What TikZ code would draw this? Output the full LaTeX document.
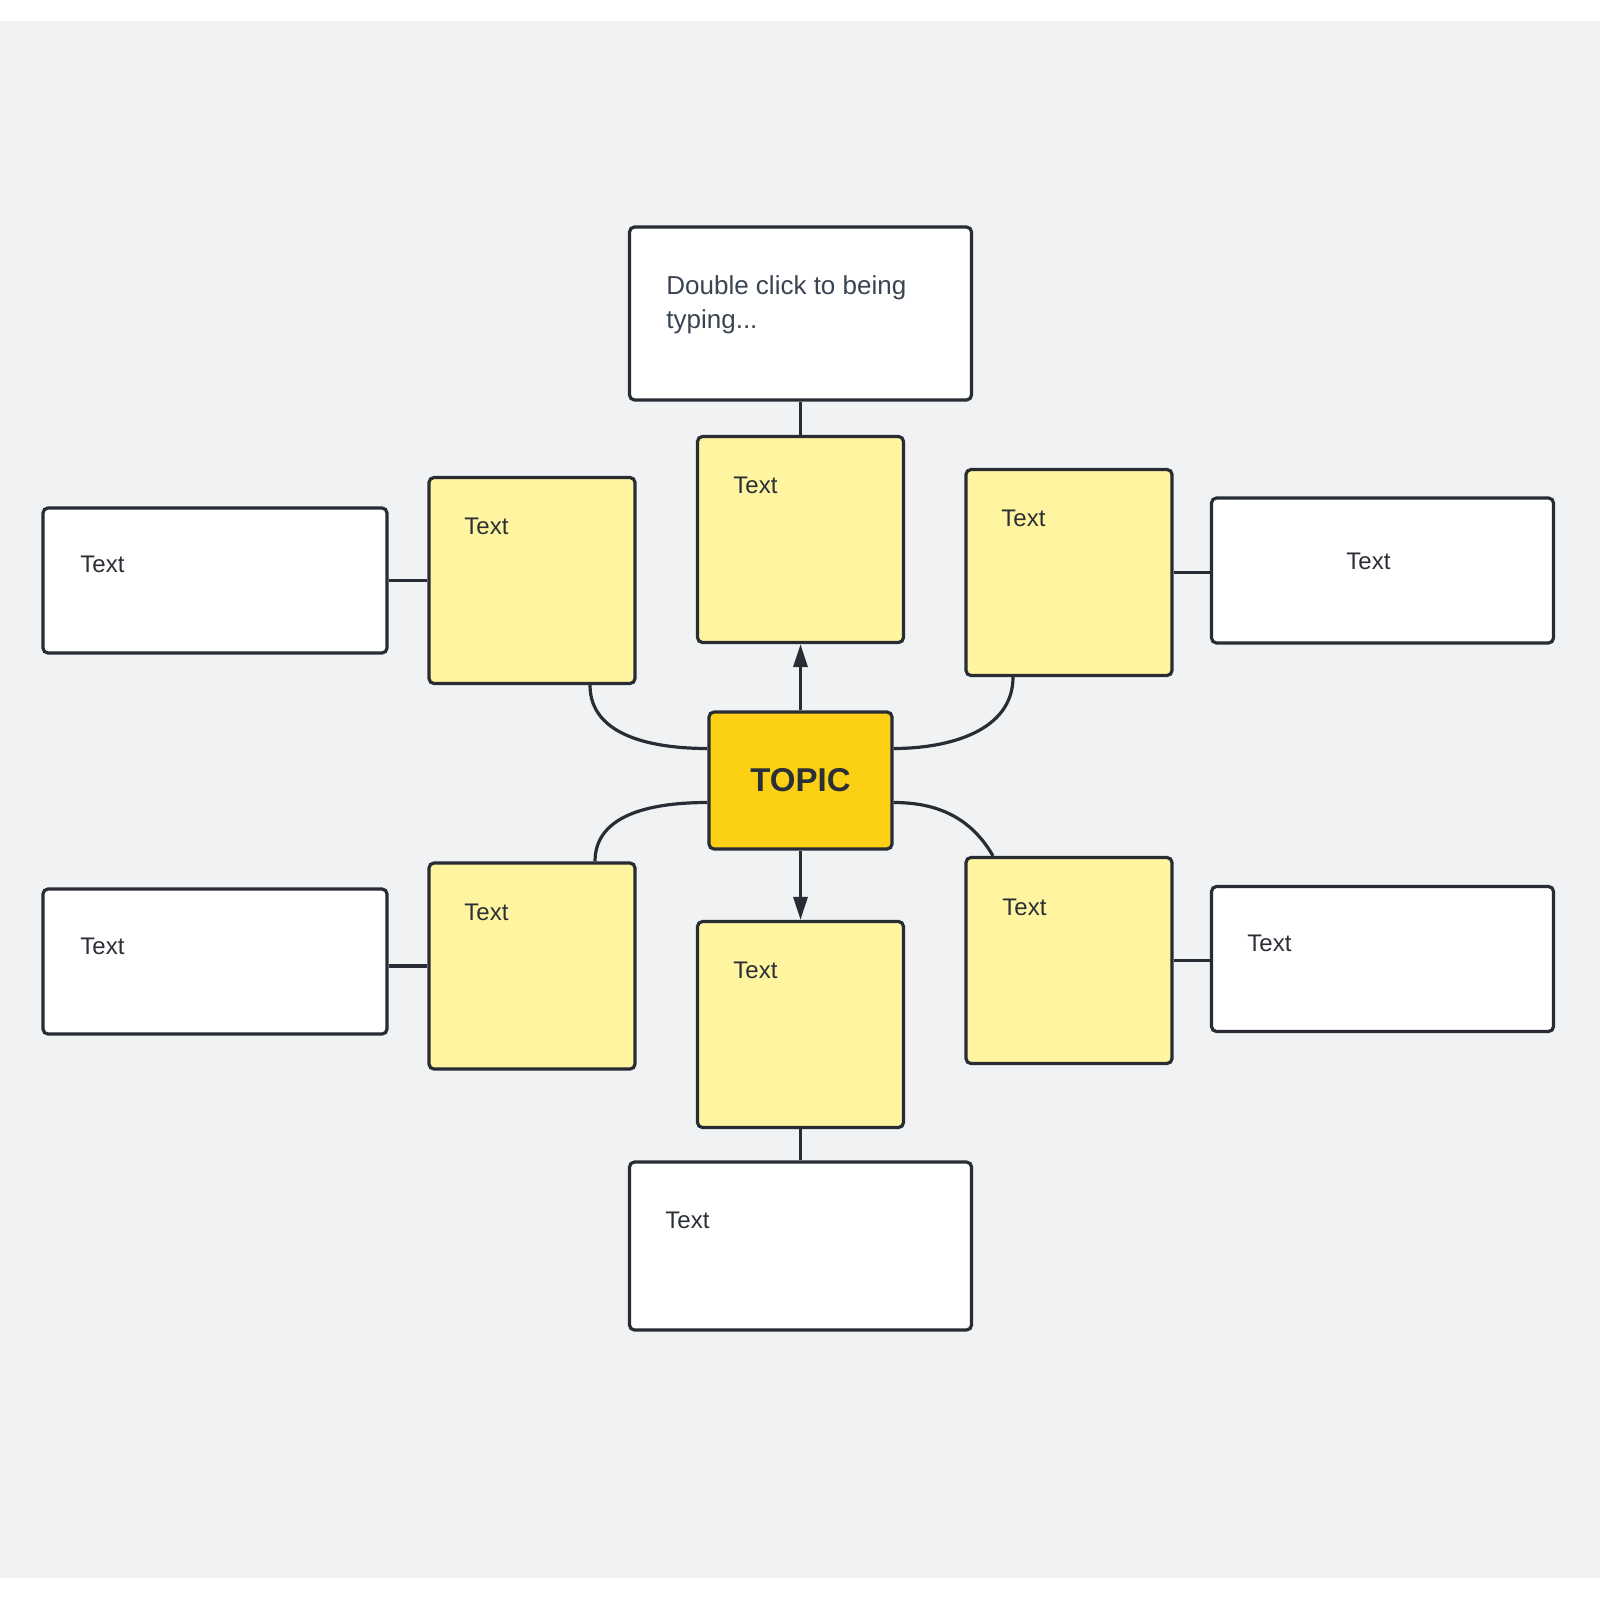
\documentclass[tikz,border=0pt]{standalone}
\usepackage{fontspec}
\setmainfont{Liberation Sans}
\usetikzlibrary{arrows.meta}

\definecolor{bgcol}{HTML}{F1F2F4}
\definecolor{linecol}{HTML}{282C34}
\definecolor{notecol}{HTML}{FFF5A0}
\definecolor{topiccol}{HTML}{FBD015}
\definecolor{txtcol}{HTML}{2B2F36}
\definecolor{hintcol}{HTML}{3A4452}

\tikzset{
  boxline/.style={draw=linecol, line width=1.6pt, rounded corners=2.5pt, inner sep=0pt},
  whitebox/.style={boxline, fill=white, minimum width=171pt, minimum height=72.5pt},
  notebox/.style={boxline, fill=notecol, minimum width=103pt, minimum height=103pt},
  topicbox/.style={boxline, fill=topiccol, minimum width=91.5pt, minimum height=68.5pt,
    text=txtcol, font=\fontsize{16.5pt}{19pt}\selectfont\bfseries},
  lbl/.style={anchor=base west, inner sep=0pt, text=txtcol, font=\fontsize{12pt}{17pt}\selectfont},
  hint/.style={lbl, text=hintcol, align=left, font=\fontsize{13pt}{17pt}\selectfont},
  wire/.style={draw=linecol, line width=1.6pt},
  arrowwire/.style={wire, -{Triangle[length=11.5pt,width=7pt]}}
}

\begin{document}
\begin{tikzpicture}[x=0.5pt,y=-0.5pt]
  \fill[white] (0,0) rectangle (1600,1600) ;   %page
  \fill[bgcol] (0,21) rectangle (1600,1578) ;  %canvas

  %Topic in the middle
  \node[topicbox] (topic) at (800.5,780.5) {TOPIC};

  %Notes round the topic
  \node[notebox] (nTop) at (800.5,539.5) {};
  \node[notebox] (nBot) at (800.5,1024.5) {};
  \node[notebox] (nUL) at (532,580.5) {};
  \node[notebox] (nUR) at (1069,572.5) {};
  \node[notebox] (nLL) at (532,966) {};
  \node[notebox] (nLR) at (1069,960.5) {};

  %White boxes on the outside
  \node[whitebox, minimum height=86.5pt] (wTop) at (800.5,313.5) {};
  \node[whitebox, minimum height=84pt] (wBot) at (800.5,1246) {};
  \node[whitebox, minimum width=172pt] (wUL) at (215,580.5) {};
  \node[whitebox] (wUR) at (1382.5,570.5) {};
  \node[whitebox, minimum width=172pt] (wLL) at (215,961.5) {};
  \node[whitebox] (wLR) at (1382.5,959) {};

  %Texts (base of the last line)
  \node[hint] (tHint) at (666,328) {Double click to being\\typing...};
  \node[lbl] (tTop) at (733,493) {Text};
  \node[lbl] (tUL) at (464,534) {Text};
  \node[lbl] (tUR) at (1001,526) {Text};
  \node[lbl] (tLL) at (464,920) {Text};
  \node[lbl] (tBot) at (733,978) {Text};
  \node[lbl] (tLR) at (1002,915) {Text};
  \node[lbl] (tWUL) at (80,572) {Text};
  \node[lbl] (tWUR) at (1346,569) {Text};
  \node[lbl] (tWLL) at (80,954) {Text};
  \node[lbl] (tWLR) at (1247,951) {Text};
  \node[lbl] (tWBot) at (665,1228) {Text};

  %Straight links
  \draw[wire] (wTop.south) -- (nTop.north) ;
  \draw[wire] (nBot.south) -- (wBot.north) ;
  \draw[arrowwire] (topic.north) -- (nTop.south) ;
  \draw[arrowwire] (topic.south) -- (nBot.north) ;
  \draw[wire] (wUL.east) -- (nUL.west) ;
  \draw[wire] (nUR.east) -- (nUR.east -| wUR.west) ;
  \draw[wire] (wLL.east |- nLL.west) -- (nLL.west) ;
  \draw[wire] (nLR.east) -- (nLR.east -| wLR.west) ;

  %Curved links to the topic
  \draw[wire] ([xshift=29pt]nUL.south) to[out=-90,in=180] ([yshift=16pt]topic.west) ;
  \draw[wire] ([xshift=-28pt]nUR.south) to[out=-90,in=0] ([yshift=16pt]topic.east) ;
  \draw[wire] ([yshift=-11pt]topic.west) to[out=180,in=90] ([xshift=31.5pt]nLL.north) ;
  \draw[wire] ([yshift=-11pt]topic.east) to[out=0,in=120] ([xshift=-38pt]nLR.north) ;
\end{tikzpicture}
\end{document}
